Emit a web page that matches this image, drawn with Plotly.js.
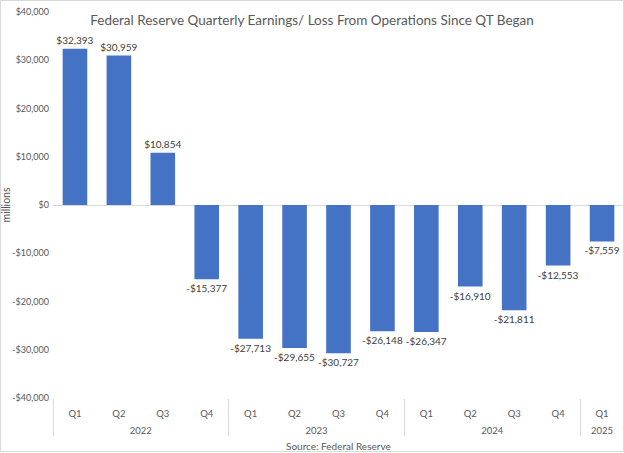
<!DOCTYPE html>
<html>
<head>
<meta charset="utf-8">
<script src="https://cdn.plot.ly/plotly-3.0.1.min.js"></script>
<style>
html,body{margin:0;padding:0;background:#fff;}
#wrap{position:relative;width:624px;height:453px;}
#chart{position:absolute;left:0;top:0;width:624px;height:453px;}
#frame{position:absolute;left:0;top:0;width:622px;height:450px;border:1px solid #d9d9d9;pointer-events:none;}
</style>
</head>
<body>
<div id="wrap"><div id="chart"></div><div id="frame"></div></div>
<script>
const years = ['2022','2022','2022','2022','2023','2023','2023','2023','2024','2024','2024','2024','2025'];
const quarters = ['Q1','Q2','Q3','Q4','Q1','Q2','Q3','Q4','Q1','Q2','Q3','Q4','Q1'];
const earnings = [32393, 30959, 10854, -15377, -27713, -29655, -30727, -26148, -26347, -16910, -21811, -12553, -7559];
const yTicks = [-40000, -30000, -20000, -10000, 0, 10000, 20000, 30000, 40000];

function money(v){ return (v < 0 ? '-' : '') + '$' + Math.abs(v).toLocaleString('en-US'); }

const font = 'Lato, "Open Sans", sans-serif';

const trace = {
  type: 'bar',
  x: [years.map(y => '<br>' + y), quarters],
  y: earnings,
  marker: {color: '#4472C4'},
  text: earnings.map(money),
  textposition: 'outside',
  textangle: 0,
  constraintext: 'none',
  cliponaxis: false,
  textfont: {family: font, size: 10, color: '#404040'},
  hoverinfo: 'none'
};

const layout = {
  width: 624, height: 453,
  margin: {l: 53, r: 0, t: 12, b: 55},
  paper_bgcolor: '#ffffff',
  plot_bgcolor: '#ffffff',
  showlegend: false,
  bargap: 0.44,
  font: {family: font, color: '#595959', size: 10},
  title: {
    text: 'Federal Reserve Quarterly Earnings/ Loss From Operations Since QT Began',
    font: {family: font, size: 13.5, color: '#595959'},
    x: 0.5, xref: 'container', xanchor: 'center',
    y: 1 - 20/453, yref: 'container', yanchor: 'middle'
  },
  xaxis: {
    type: 'multicategory',
    showline: false,
    showgrid: false,
    zeroline: false,
    ticks: '',
    ticklabelstandoff: 8,
    showdividers: true,
    dividercolor: '#d9d9d9',
    dividerwidth: 1,
    tickfont: {family: font, size: 9.5, color: '#595959'}
  },
  yaxis: {
    range: [-40000, 40000],
    tickvals: yTicks,
    ticktext: yTicks.map(money),
    showgrid: false,
    showline: false,
    zeroline: true,
    zerolinecolor: '#d9d9d9',
    zerolinewidth: 1,
    ticks: '',
    ticklabelstandoff: 3,
    tickfont: {family: font, size: 9, color: '#595959'},
    title: {text: 'millions', font: {family: font, size: 10.5, color: '#595959'}, standoff: 8}
  },
  annotations: [{
    text: 'Source: Federal Reserve',
    xref: 'paper', yref: 'paper',
    x: (338 - 53) / 571, y: -0.125,
    xanchor: 'center', yanchor: 'middle',
    showarrow: false,
    font: {family: font, size: 10, color: '#595959'}
  }]
};

Plotly.newPlot('chart', [trace], layout, {displayModeBar: false, staticPlot: true});
</script>
</body>
</html>
